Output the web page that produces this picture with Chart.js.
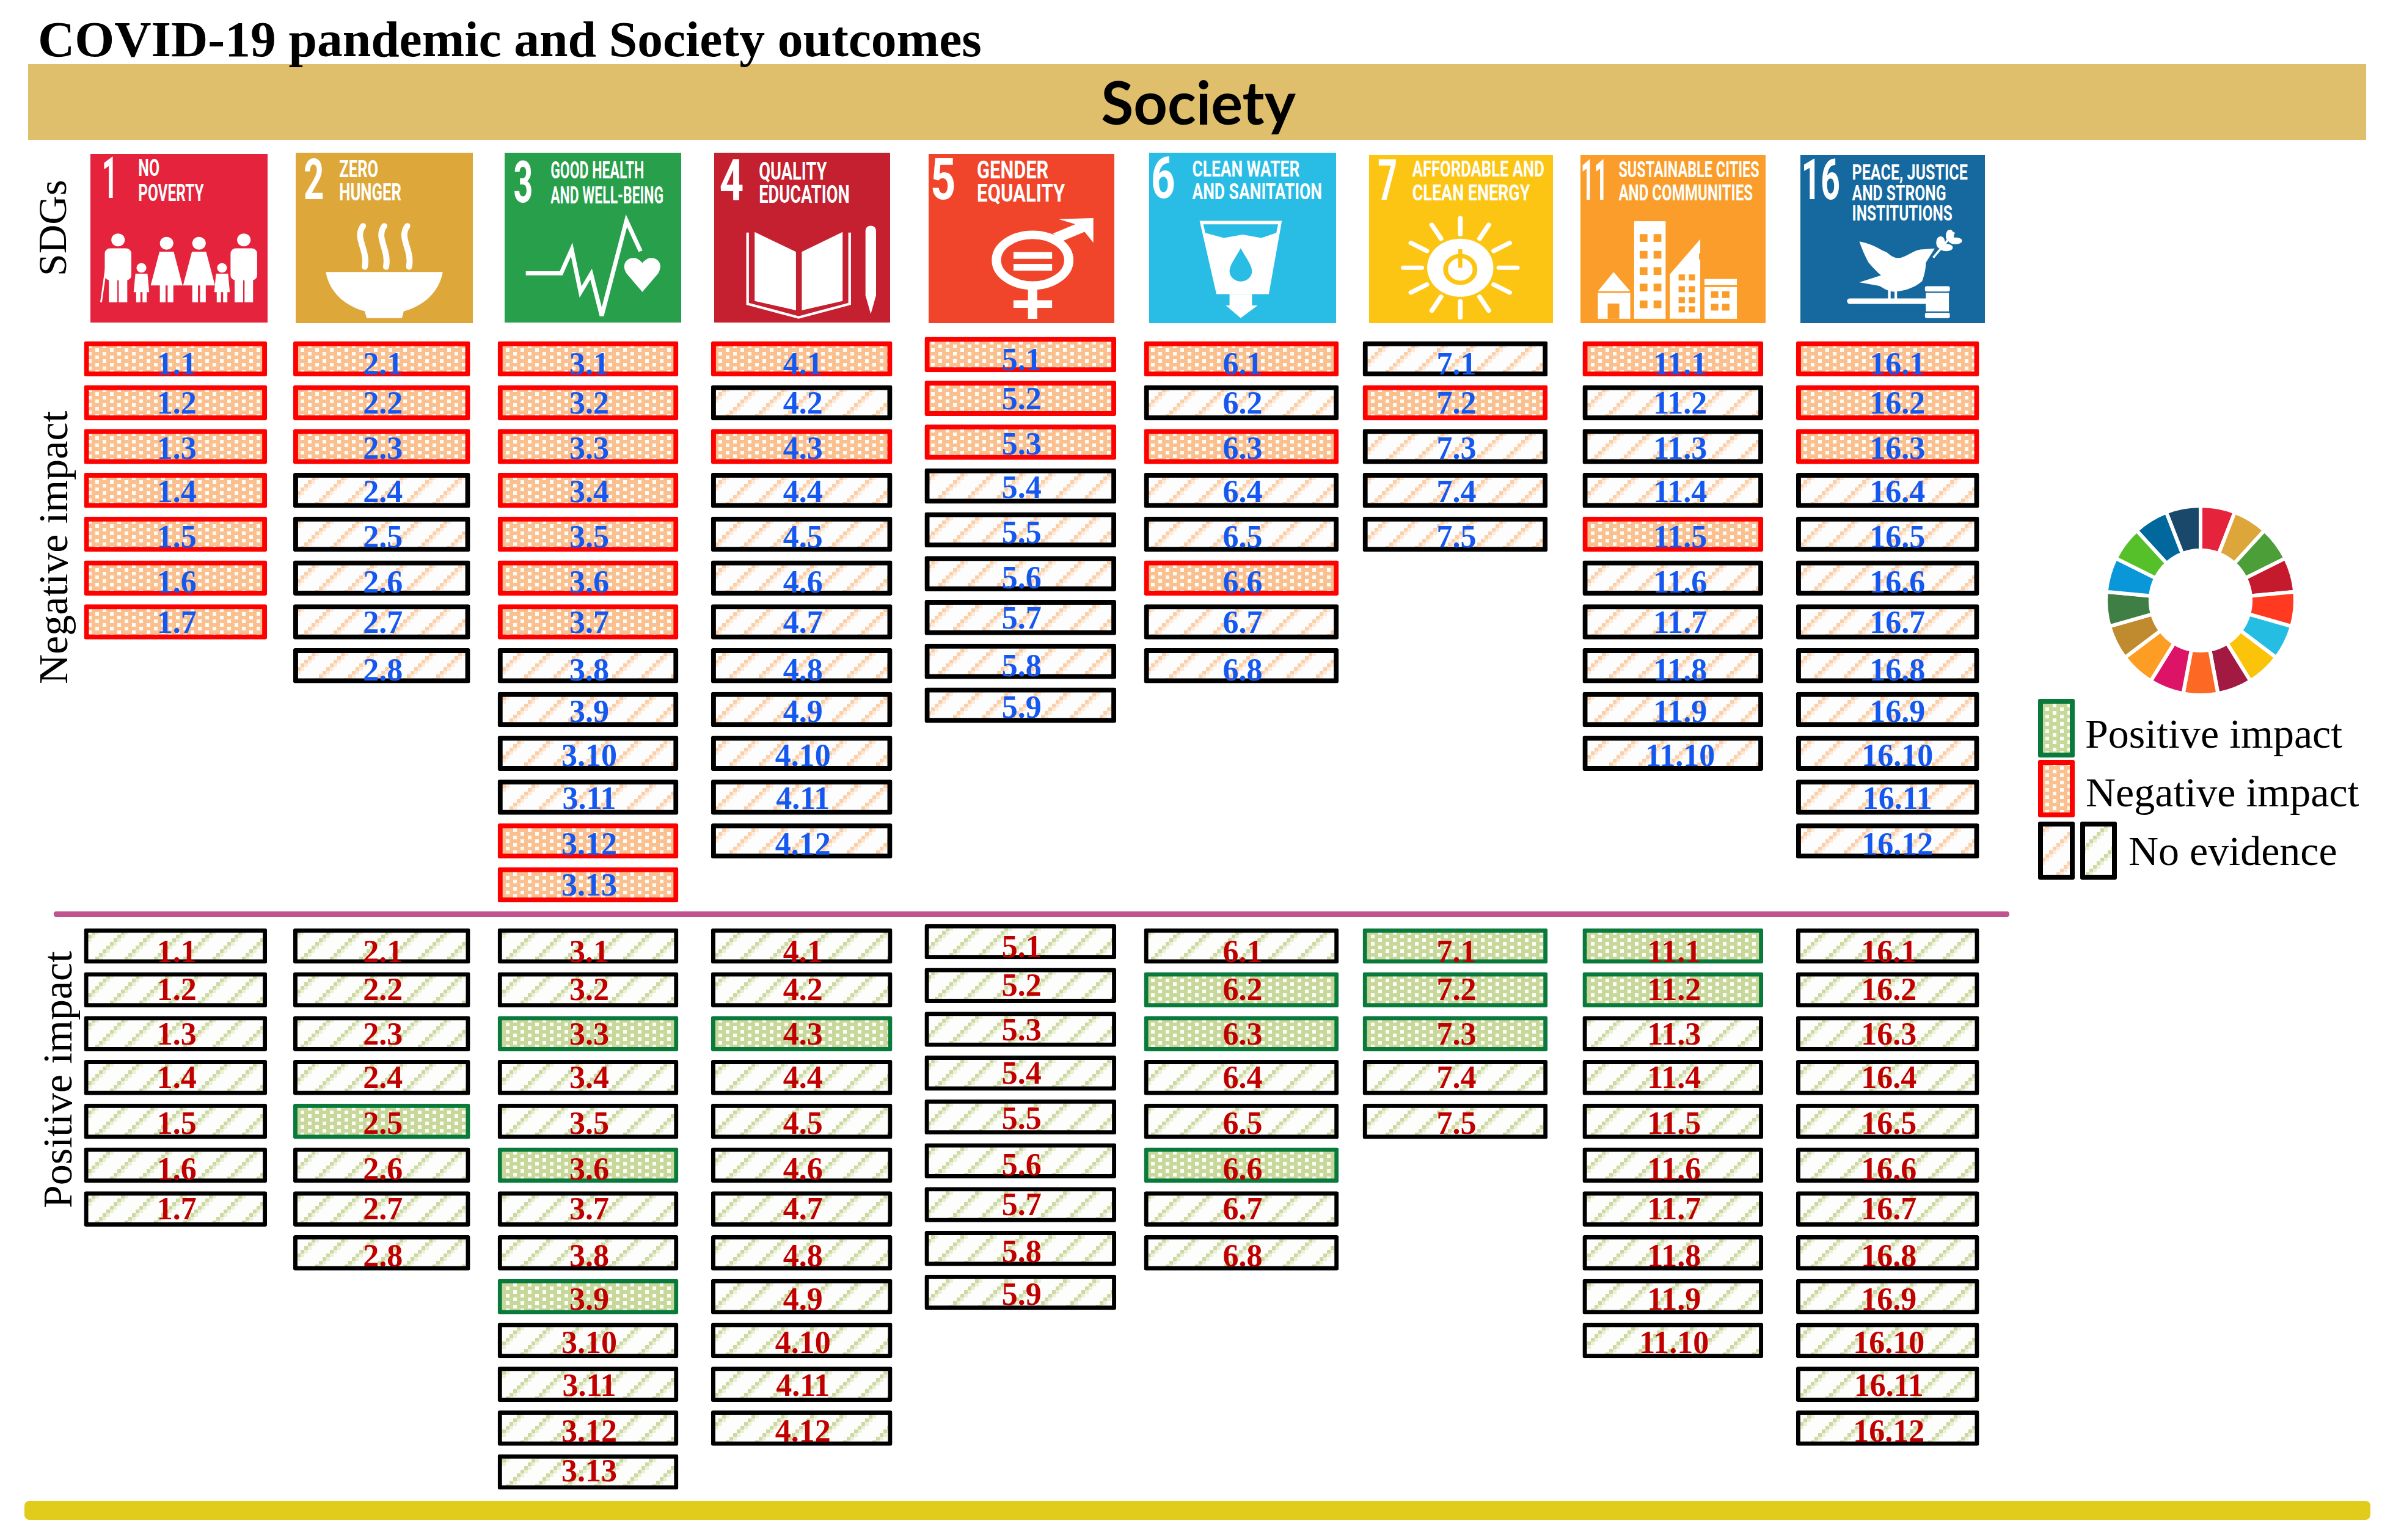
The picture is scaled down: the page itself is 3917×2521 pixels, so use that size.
<!DOCTYPE html>
<html>
<head>
<meta charset="utf-8">
<title>COVID-19 pandemic and Society outcomes</title>
<script src="https://cdn.jsdelivr.net/npm/chart.js@4/dist/chart.umd.min.js"></script>
<style>
  html, body { margin: 0; padding: 0; background: #fff; }
  #page { position: relative; width: 3917px; height: 2521px; overflow: hidden; background: #fff; }
  #page canvas, #page svg { position: absolute; }
  .band { position: absolute; }
  .serif { position: absolute; font-family: "Liberation Serif", serif; color: #000; white-space: nowrap; line-height: 1; }
  .side { transform-origin: 0 0; transform: rotate(-90deg); }
</style>
</head>
<body>
<div id="page">
  <div class="band" style="left:46px;top:105px;width:3827px;height:124px;background:#dfbf6b"></div>
  <div class="serif" style="left:62px;top:23px;font-size:83.5px;font-weight:bold">COVID-19 pandemic and Society outcomes</div>
  <div style="position:absolute;left:48px;top:105px;width:3827px;height:124px;text-align:center;font:bold 97px Lato,sans-serif;line-height:124px;color:#000">Society</div>
  <div class="band" style="left:88px;top:1492px;width:3201px;height:9px;background:#c0528f;border-radius:4px"></div>
  <div class="band" style="left:40px;top:2457px;width:3840px;height:31px;background:#e2cc1b;border-radius:8px"></div>

  <div class="serif side" style="left:53px;top:452px;font-size:66px">SDGs</div>
  <div class="serif side" style="left:53px;top:1120px;font-size:68px">Negative impact</div>
  <div class="serif side" style="left:60px;top:1978px;font-size:68px">Positive impact</div>

  <svg id="tiles" width="3917" height="2521" viewBox="0 0 3917 2521" style="left:0;top:0"></svg>
  <canvas id="matrix" width="3917" height="2521" style="left:0;top:0"></canvas>
  <canvas id="wheel" width="340" height="340" style="left:3432px;top:813px"></canvas>

  <div class="serif" style="left:3413px;top:1167px;font-size:68px">Positive impact</div>
  <div class="serif" style="left:3414px;top:1263px;font-size:68px">Negative impact</div>
  <div class="serif" style="left:3484px;top:1359px;font-size:68px">No evidence</div>
</div>

<script>
// SDG goals shown, and how many targets each goal has
const goals = [1, 2, 3, 4, 5, 6, 7, 11, 16];
const targetCounts = [7, 8, 13, 12, 9, 8, 5, 10, 12];

// targets with evidence of impact, by goal
const negativeTargets = [
    [1, 2, 3, 4, 5, 6, 7],
    [1, 2, 3],
    [1, 2, 3, 4, 5, 6, 7, 12, 13],
    [1, 3],
    [1, 2, 3],
    [1, 3, 6],
    [2],
    [1, 5],
    [1, 2, 3]
];
const positiveTargets = [
    [],
    [5],
    [3, 6, 9],
    [3],
    [],
    [2, 3, 6],
    [1, 2, 3],
    [1, 2],
    []
];

// wheel logo
const wheelColors = ["#e5243b", "#dda63a", "#4c9f38", "#c5192d", "#ff3a21", "#26bde2", "#fcc30b", "#a21942",
    "#fd6925", "#dd1367", "#fd9d24", "#bf8b2e", "#3f7e44", "#0a97d9", "#56c02b", "#00689d", "#19486a"];
const wheelValues = wheelColors.map(() => 1);

// axis setup: columns are not evenly spaced in the original
const goalSlots = [1, 1.963, 2.927, 3.925, 4.947, 5.979, 6.978, 7.995, 8.998];
const goalBoxWidths = [299, 289, 295, 296, 313, 318, 302, 295, 299];
const goalRowShift = [0, 0, 0, 0, -0.1, 0, 0, 0, 0];
const positiveRowOffset = 13.396;
const BOX_HALF = 0.397;

// the numbers sit a little off centre in the original
const negLabelDrop = [26, 18, 20, 19, 22, 24, 18, 24, 21, 21, 19, 22, 18];
const posLabelDrop = [26, 17, 18, 17, 20, 24, 17, 22, 21, 21, 19, 22, 15];
const negLabelSide = [0, 0, 0, 0, 0, 0, 0, 10, 14];

function dotPattern(base) {
    const c = document.createElement("canvas");
    c.width = 24; c.height = 12;
    const g = c.getContext("2d");
    g.fillStyle = base; g.fillRect(0, 0, 24, 12);
    g.fillStyle = "#fcfdf9";
    g.fillRect(0, 0, 6, 6);
    g.fillRect(12, 6, 6, 6);
    return g.createPattern(c, "repeat");
}

function stripePattern(main, soft, paper) {
    const c = document.createElement("canvas");
    c.width = 48; c.height = 48;
    const g = c.getContext("2d");
    g.fillStyle = paper; g.fillRect(0, 0, 48, 48);
    for (let i = 0; i < 8; i++) {
        g.fillStyle = soft; g.fillRect((6 * i + 6) % 48, 42 - 6 * i, 6, 6);
        g.fillStyle = main; g.fillRect(6 * i, 42 - 6 * i, 6, 6);
    }
    return g.createPattern(c, "repeat");
}

const fills = {
    negative: dotPattern("#fbc08f"),
    positive: dotPattern("#c8d89a"),
    noneNegative: stripePattern("#fbcfa8", "#fdeadb", "#fcfdfc"),
    nonePositive: stripePattern("#cdd9a2", "#ebf0d8", "#fdfefb")
};
const edges = {
    negative: "#ff0000",
    positive: "#0a7a3c",
    noneNegative: "#000000",
    nonePositive: "#000000"
};

function goalPoints(g) {
    const pts = [];
    for (let t = 1; t <= targetCounts[g]; t++) {
        const label = goals[g] + "." + t;
        const negRow = t + goalRowShift[g];
        const posRow = negRow + positiveRowOffset;
        pts.push({
            x: goalSlots[g], y: [negRow - BOX_HALF, negRow + BOX_HALF], label: label, goal: g, target: t,
            panel: "neg", status: negativeTargets[g].includes(t) ? "negative" : "noneNegative"
        });
        pts.push({
            x: goalSlots[g], y: [posRow - BOX_HALF, posRow + BOX_HALF], label: label, goal: g, target: t,
            panel: "pos", status: positiveTargets[g].includes(t) ? "positive" : "nonePositive"
        });
    }
    return pts;
}

// numbers inside the boxes
const cellLabels = {
    id: "cellLabels",
    afterDatasetsDraw(chart) {
        const c = chart.ctx;
        c.save();
        c.font = "bold 52px 'Liberation Serif'";
        c.textAlign = "center";
        c.textBaseline = "alphabetic";
        chart.data.datasets.forEach((ds, i) => {
            chart.getDatasetMeta(i).data.forEach((bar, j) => {
                const p = ds.data[j];
                const neg = p.panel === "neg";
                c.fillStyle = neg ? "#1558f0" : "#c00000";
                const drop = (neg ? negLabelDrop : posLabelDrop)[p.target - 1];
                const side = neg ? negLabelSide[p.goal] : 0;
                c.fillText(p.label, bar.x + 2 + side, (bar.y + bar.base) / 2 + drop);
            });
        });
        c.restore();
    }
};

// legend swatches
const legendKeys = {
    id: "legendKeys",
    afterDatasetsDraw(chart) {
        const c = chart.ctx;
        [
            [3336, 1144, 60, 96, "positive"],
            [3336, 1244, 60, 94, "negative"],
            [3336, 1345, 60, 95, "noneNegative"],
            [3405, 1345, 60, 95, "nonePositive"]
        ].forEach(k => {
            c.fillStyle = edges[k[4]];
            c.beginPath(); c.roundRect(k[0], k[1], k[2], k[3], 3); c.fill();
            c.fillStyle = fills[k[4]];
            c.fillRect(k[0] + 8, k[1] + 8, k[2] - 16, k[3] - 16);
        });
    }
};

new Chart(document.getElementById("matrix"), {
    type: "bar",
    data: {
        datasets: goals.map((goal, g) => ({
            label: "SDG " + goal,
            data: goalPoints(g),
            grouped: false,
            barPercentage: 1,
            categoryPercentage: 1,
            maxBarThickness: goalBoxWidths[g],
            borderSkipped: false,
            borderRadius: 3,
            backgroundColor: ctx => fills[ctx.raw.status],
            borderColor: ctx => edges[ctx.raw.status],
            borderWidth: ctx => ctx.raw.panel === "neg" ? 8 : 7
        }))
    },
    options: {
        responsive: false,
        animation: false,
        devicePixelRatio: 1,
        layout: { padding: 0 },
        plugins: { legend: { display: false }, tooltip: { enabled: false } },
        scales: {
            x: { type: "linear", display: false, offset: false, min: 0.18, max: 11.359, grid: { display: false } },
            y: { type: "linear", display: false, reverse: true, min: -7.188, max: 27.948, grid: { display: false } }
        }
    },
    plugins: [cellLabels, legendKeys]
});

new Chart(document.getElementById("wheel"), {
    type: "doughnut",
    data: { datasets: [{ data: wheelValues, backgroundColor: wheelColors, borderColor: "#fff", borderWidth: 6 }] },
    options: {
        responsive: false,
        animation: false,
        devicePixelRatio: 1,
        cutout: "53%",
        layout: { padding: 12 },
        plugins: { legend: { display: false }, tooltip: { enabled: false } }
    }
});

// goal tiles, sketched in a 100x100 box per tile
function tx(s, x, y, len, size, weight) {
    return `<text x="${x}" y="${y}" textLength="${len}" lengthAdjust="spacingAndGlyphs" font-family="Roboto" font-weight="${weight || 700}" font-size="${size}" fill="#fff">${s}</text>`;
}
function man(cx) {
    return `<circle cx="${cx}" cy="51" r="3.8"/><rect x="${cx - 7.5}" y="56" width="15" height="19" rx="3"/><rect x="${cx - 5.2}" y="70" width="4.8" height="18"/><rect x="${cx + 0.4}" y="70" width="4.8" height="18"/>`;
}
function woman(cx) {
    return `<circle cx="${cx}" cy="53" r="3.8"/><polygon points="${cx - 4},58 ${cx + 4},58 ${cx + 9},78 ${cx - 9},78"/><rect x="${cx - 3.8}" y="76" width="3.2" height="12"/><rect x="${cx + 0.6}" y="76" width="3.2" height="12"/>`;
}
function child(cx) {
    return `<circle cx="${cx}" cy="67.6" r="2.8"/><polygon points="${cx - 3.4},71 ${cx + 3.4},71 ${cx + 4.4},82 ${cx - 4.4},82"/><rect x="${cx - 3}" y="80" width="2.4" height="8"/><rect x="${cx + 0.6}" y="80" width="2.4" height="8"/>`;
}
function sunRays() {
    let out = "";
    for (let a = 0; a < 360; a += 30) {
        const r = a * Math.PI / 180;
        out += `<line x1="${49.6 + 21 * Math.sin(r)}" y1="${67 - 20 * Math.cos(r)}" x2="${49.6 + 31 * Math.sin(r)}" y2="${67 - 29.5 * Math.cos(r)}" stroke="#fff" stroke-width="2.6" stroke-linecap="round"/>`;
    }
    return out;
}
function win(color, list) {
    return list.map(w => `<rect x="${w[0]}" y="${w[1]}" width="${w[2]}" height="${w[3]}" fill="${color}"/>`).join("");
}
function cityWindows(color) {
    const out = [];
    [47, 57, 66.7, 76.5, 86.5].forEach(y => { out.push([32, y, 4.2, 4.6]); out.push([39.5, y, 4.2, 4.6]); });
    [[58.5, 64], [64, 66], [71, 53], [71, 58.5], [78, 53], [78, 58.5], [84.5, 53], [84.5, 58.5], [90, 53], [90, 58.5]]
        .forEach(p => out.push([p[1], p[0], 3.4, 3.6]));
    [[70.5, 81], [76.5, 81], [70.5, 88.5], [76.5, 88.5]].forEach(p => out.push([p[0], p[1], 4, 4]));
    return win(color, out);
}

const tileBoxes = [
    [148, 252, 290, 276], [484, 250, 290, 279], [826, 250, 289, 278], [1169, 250, 288, 278], [1520, 252, 304, 277],
    [1881, 250, 306, 279], [2241, 254, 301, 275], [2587, 254, 303, 275], [2947, 254, 302, 275]
];
const tileColors = ["#e5233d", "#dda73a", "#279f4b", "#c4202f", "#f0452b", "#29bde5", "#fdc513", "#fa9d2a", "#16699e"];
const tileArt = [
    tx("1", 6.5, 26, 9, 34) + tx("NO", 27, 13, 12, 14) + tx("POVERTY", 27, 28, 37, 14) +
        `<g fill="#fff">${man(15.6)}${child(28.8)}${woman(43)}${woman(61.3)}${child(74.3)}${man(86.6)}</g>` +
        `<line x1="6" y1="88" x2="9" y2="66" stroke="#fff" stroke-width="1"/>`,
    tx("2", 4.5, 27.4, 11.5, 33) + tx("ZERO", 24.6, 14.3, 22, 14) + tx("HUNGER", 24.6, 27.8, 35, 14) +
        `<g fill="none" stroke="#fff" stroke-width="3.4" stroke-linecap="round"><path d="M38 43 C33 50 41 57 39 67"/><path d="M50 43 C45 50 53 57 51 67"/><path d="M63 43 C58 50 66 57 64 67"/></g>` +
        `<path fill="#fff" d="M17 70 H83 C81 82 72 90 61 93 L60 97 H40 L39 93 C28 90 19 82 17 70Z"/>`,
    tx("3", 5, 29, 11, 34) + tx("GOOD HEALTH", 26, 15, 53, 14) + tx("AND WELL-BEING", 26, 29.7, 64, 14) +
        `<path fill="none" stroke="#fff" stroke-width="2.4" stroke-linejoin="miter" d="M12 71 H32 L38 57 L43 82 L49 71.5 L55 96 L69 40 L77 58"/>` +
        `<path fill="#fff" d="M78 82 L69 71 C66 66 69 62 73 62 C76 62 78 65 78 65 C78 65 80 62 83 62 C87 62 90 66 87 71Z"/>`,
    tx("4", 3, 28, 13.7, 34) + tx("QUALITY", 25.4, 15.7, 38.6, 14.5) + tx("EDUCATION", 25.4, 29.5, 51.6, 14.5) +
        `<polygon fill="#fff" points="23,46.7 46.5,58.4 46.5,92.8 23,87.3"/><polygon fill="#fff" points="49.8,58.4 73,46.7 73,87.3 49.8,92.8"/>` +
        `<path fill="none" stroke="#fff" stroke-width="1.5" d="M19 47 V89 L48 97 L77 89 V47"/>` +
        `<path fill="#fff" d="M86 46 C86 42 92 42 92 46 V84 L89 95 L86 84Z"/>`,
    tx("5", 1, 26.8, 13.6, 34) + tx("GENDER", 26, 14.4, 38.6, 14.5) + tx("EQUALITY", 26, 28, 47.4, 14.5) +
        `<ellipse cx="56" cy="62.8" rx="19.5" ry="15" fill="none" stroke="#fff" stroke-width="5"/>` +
        `<rect x="45.7" y="58" width="20.8" height="4" fill="#fff"/><rect x="45.7" y="65" width="20.8" height="4" fill="#fff"/>` +
        `<path fill="#fff" d="M53.5 78 H58.5 V86.5 H66.5 V91 H58.5 V97.5 H53.5 V91 H45.7 V86.5 H53.5Z"/>` +
        `<path fill="#fff" d="M67 47 L79 41.5 L70 38.5 L88.7 37.9 V52.4 L84 46 L71 52Z"/>`,
    tx("6", 1, 26.6, 13, 34) + tx("CLEAN WATER", 23, 13.9, 57.5, 13) + tx("AND SANITATION", 23, 27.3, 69.5, 13) +
        `<polygon fill="#fff" points="27,40 71,40 64,83 36,83"/><polygon fill="#29bde5" points="29,42 69,42 68,47 60,50 50,48 40,50 30,47"/>` +
        `<path fill="#29bde5" d="M49 56 C52 62 55 66 55 69.5 C55 73 52 75.5 49 75.5 C46 75.5 43 73 43 69.5 C43 66 46 62 49 56Z"/>` +
        `<polygon fill="#fff" points="43,83 55,83 55,89.6 58,89.6 49,97 41,89.6 43,89.6"/>`,
    tx("7", 4.7, 26.6, 10.6, 34) + tx("AFFORDABLE AND", 23.5, 12.7, 71.8, 13.5) + tx("CLEAN ENERGY", 23.5, 27, 64, 13.5) +
        sunRays() + `<ellipse cx="49.6" cy="67" rx="18" ry="17.3" fill="#fff"/><circle cx="49.6" cy="68" r="8" fill="none" stroke="#fdc513" stroke-width="2.6"/>` +
        `<rect x="48.5" y="56" width="2.2" height="11" fill="#fdc513"/>`,
    tx("11", 0.2, 26.6, 14.5, 34) + tx("SUSTAINABLE CITIES", 20.6, 13, 76, 13.5) + tx("AND COMMUNITIES", 20.6, 27, 72.5, 13.5) +
        `<g fill="#fff"><polygon points="17.9,69.5 9.4,81 26.9,81"/><rect x="9.4" y="82" width="17.5" height="15.4"/><rect x="29" y="39.3" width="17" height="58.1"/>` +
        `<polygon points="48.3,70.9 64.7,50 64.7,97.4 48.3,97.4"/><rect x="67" y="73.7" width="17.5" height="3.6"/><rect x="67" y="78.5" width="17.5" height="18.9"/></g>` +
        win("#fa9d2a", [[14.7, 88.3, 6.3, 9.1]]) + cityWindows("#fa9d2a"),
    tx("16", 0.5, 26.3, 21, 34) + tx("PEACE, JUSTICE", 28, 14.7, 62.7, 13) + tx("AND STRONG", 28, 27, 51, 13) + tx("INSTITUTIONS", 28, 38.8, 54.4, 13) +
        `<path fill="#fff" d="M32 51.4 C40 53 44 57 46.6 57.6 C50 61 52 61.5 54.4 61.1 C58 60 61 57 65 56.2 L72.8 55.5 L68 64 C68 68 67 72 66 75 C62 79 56 81 50.5 81.3 C47 81 45 79 42.7 77.8 L32 75.7 L43.7 71.5 C40 68 37 64 37 64 C35 60 33 55 32 51.4Z"/>` +
        `<g stroke="#fff" stroke-width="1.2" fill="#fff"><line x1="72" y1="61" x2="83.4" y2="46"/><ellipse cx="76" cy="52" rx="1.8" ry="3"/><ellipse cx="81" cy="48" rx="1.6" ry="3"/><ellipse cx="79" cy="55" rx="3" ry="1.6"/><ellipse cx="84" cy="51" rx="3" ry="1.4"/></g>` +
        `<g fill="#fff"><rect x="47.5" y="80" width="1.4" height="7"/><rect x="51" y="80" width="1.4" height="7"/><rect x="25.3" y="85.3" width="45" height="3.2" rx="1.5"/><rect x="67.5" y="78" width="13.5" height="3.2" rx="1"/><rect x="68" y="82" width="12.5" height="11"/><rect x="67.5" y="93.8" width="13.5" height="3.2" rx="1"/></g>`
];

document.getElementById("tiles").innerHTML = tileBoxes.map((b, i) =>
    `<rect x="${b[0]}" y="${b[1]}" width="${b[2]}" height="${b[3]}" fill="${tileColors[i]}"/>` +
    `<g transform="translate(${b[0]} ${b[1]}) scale(${b[2] / 100} ${b[3] / 100})">${tileArt[i]}</g>`
).join("");
</script>
</body>
</html>
